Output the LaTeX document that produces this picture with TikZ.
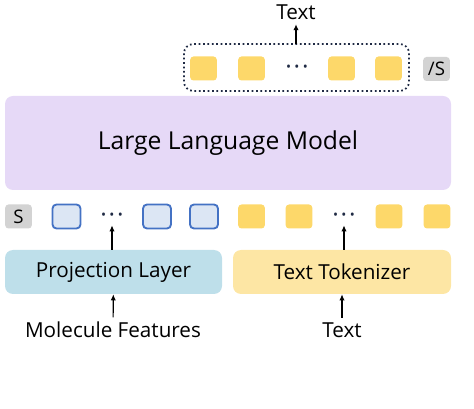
\documentclass[tikz,border=0pt]{standalone}
\usepackage{fontspec}
\setmainfont{Open Sans}
\usetikzlibrary{arrows.meta}
\definecolor{llmcol}{HTML}{E6D9F7}
\definecolor{projcol}{HTML}{BEDFEA}
\definecolor{tokcol}{HTML}{FDE6A4}
\definecolor{tokfill}{HTML}{FDD86A}
\definecolor{embfill}{HTML}{DCE6F4}
\definecolor{embline}{HTML}{4472C4}
\definecolor{specol}{HTML}{D3D3D3}
\definecolor{dotcol}{HTML}{1F2A44}
\newcommand{\tokdots}{\textbullet\hspace{2.5pt}\textbullet\hspace{2.5pt}\textbullet}
\tikzset{
  bigbox/.style={rounded corners=6pt, inner sep=0pt, text=black},
  tok/.style={fill=tokfill, rounded corners=2.5pt, minimum width=20pt, minimum height=18pt, inner sep=0pt},
  emb/.style={fill=embfill, draw=embline, line width=1.4pt, rounded corners=3pt, minimum width=21pt, minimum height=18pt, inner sep=0pt},
  spec/.style={fill=specol, rounded corners=2.5pt, minimum width=20pt, minimum height=18pt, inner sep=0pt, font=\fontsize{14}{16}\selectfont},
  dots/.style={text=dotcol, inner sep=1pt, font=\fontsize{10}{12}\selectfont},
  lbl/.style={font=\fontsize{15.5}{18}\selectfont},
  up/.style={-{Latex[length=4.5pt,width=4pt]}, line width=0.9pt}
}
\begin{document}
\begin{tikzpicture}[x=0.75pt, y=-0.75pt]
\useasboundingbox (0,0) rectangle (474,409);
 % large language model:
\node[bigbox, fill=llmcol, minimum width=334.5pt, minimum height=70.5pt, font=\fontsize{18.5}{22}\selectfont] (llm) at (228,143) {Large Language Model};
 % output tokens:
\node[tok] (o1) at (203.5,68.5) {};
\node[tok] (o2) at (251.5,68.5) {};
\node[dots] (od) at (297,68.5) {\tokdots};
\node[tok] (o3) at (341.5,68.5) {};
\node[tok] (o4) at (388.5,68.5) {};
\node[spec] (es) at (436.5,69) {/S};
\draw[dotcol, line width=1.3pt, dotted, rounded corners=7pt] (184,44) rectangle (409,91);
\coordinate (otop) at (296,44);
\node[lbl] (otext) at (296,12) {Text};
\draw[up] (otop) -- (otext);
 % input embeddings:
\node[spec] (ss) at (18.5,216.5) {S};
\node[emb] (e1) at (66.5,216.5) {};
\node[dots] (ed) at (112,216.5) {\tokdots};
\node[emb] (e2) at (157,216.5) {};
\node[emb] (e3) at (204,216.5) {};
 % input text tokens:
\node[tok] (t1) at (251.5,216.5) {};
\node[tok] (t2) at (299,216.5) {};
\node[dots] (td) at (344,216.5) {\tokdots};
\node[tok] (t3) at (389,216.5) {};
\node[tok] (t4) at (437,216.5) {};
 % encoders:
\node[bigbox, fill=projcol, minimum width=162.75pt, minimum height=33pt, lbl] (proj) at (113.5,272) {Projection Layer};
\node[bigbox, fill=tokcol, minimum width=163.5pt, minimum height=33pt, lbl] (tkz) at (342,272) {Text Tokenizer};
\node[lbl] (mol) at (113,330) {Molecule Features};
\node[lbl] (itext) at (342,330) {Text};
 % arrows:
\draw[up] (proj.north -| ed) -- ([yshift=-3pt]ed.south);
\draw[up] (tkz.north -| td) -- ([yshift=-3pt]td.south);
\draw[up] (mol) -- (proj);
\draw[up] (itext) -- (tkz);
\end{tikzpicture}
\end{document}
